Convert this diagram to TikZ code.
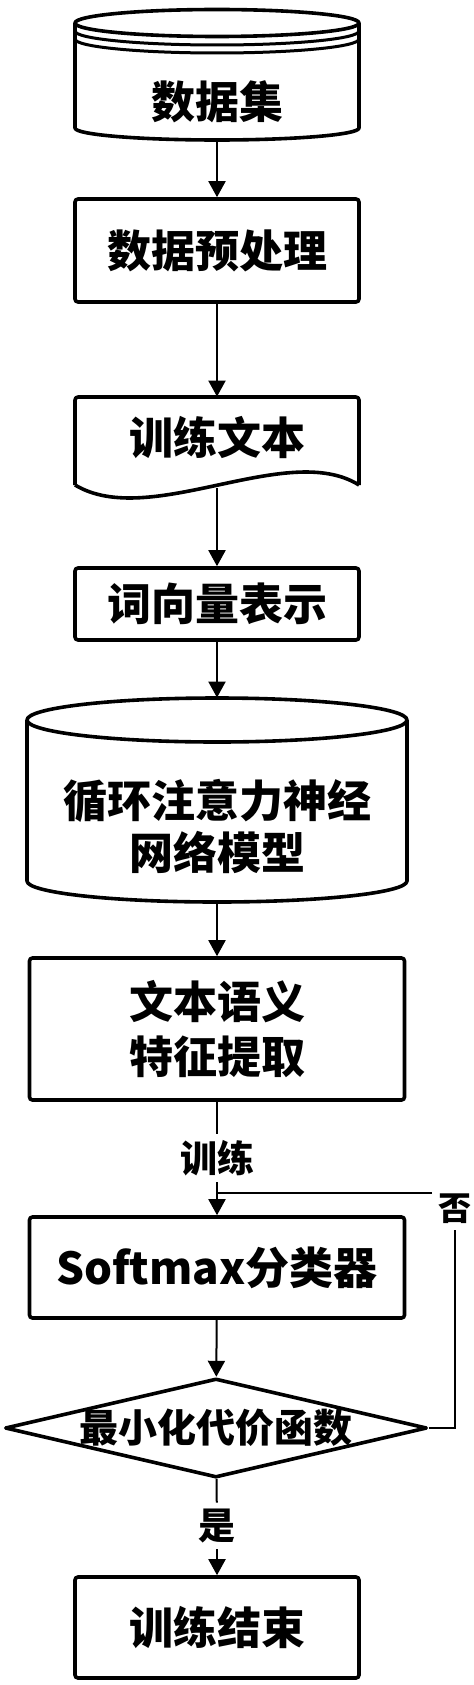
\documentclass[tikz,border=0pt]{standalone}
\usepackage{fontspec}
\setmainfont{Noto Sans CJK SC}
\usetikzlibrary{arrows.meta,shapes.geometric}
\begin{document}
\begin{tikzpicture}[x=0.5pt,y=-0.5pt,
  shapeline/.style={line width=1.8pt, line join=round},
  boxnode/.style={draw, line width=1.8pt, rounded corners=1.5pt, inner sep=0pt, align=center,
    font=\bfseries\fontsize{22pt}{27pt}\selectfont},
  anchorbox/.style={draw=none, inner sep=0pt, minimum width=#1},
  txt/.style={font=\bfseries\fontsize{22pt}{26pt}\selectfont, align=center, inner sep=0pt},
  conn/.style={line width=1pt, -{Triangle[length=8pt,width=8.5pt]}},
  plainline/.style={line width=1pt},
  lbl/.style={font=\bfseries\fontsize{18.5pt}{20pt}\selectfont, inner sep=3pt}
]
\useasboundingbox (0,0) rectangle (474,1685);

% ---- dataset (stored data, stacked top) ----
\draw[shapeline] (75,23) -- (75,128)
  arc[start angle=180, end angle=360, x radius=71pt, y radius=6pt] -- (359,23);
\draw[shapeline] (217,23) ellipse [x radius=71pt, y radius=6.75pt];
\draw[line width=1.5pt] (75,31) arc[start angle=180, end angle=360, x radius=71pt, y radius=7pt];
\draw[line width=1.5pt] (75,39) arc[start angle=180, end angle=360, x radius=71pt, y radius=7pt];
\node[anchorbox=142pt, minimum height=65.25pt] (ds) at (217,74.75) {};
\node[txt] (dstext) at (217,102) {数据集};

% ---- preprocessing ----
\node[boxnode, minimum width=142pt, minimum height=51.5pt] (b2) at (217,250.5) {数据预处理};

% ---- document ----
\draw[shapeline, rounded corners=1.5pt] (75,485) -- (75,397) -- (359,397) -- (359,485);
\draw[shapeline] (359,485) .. controls (287,440) and (150,530) .. (75,485);
\node[anchorbox=142pt, minimum height=45.5pt] (doc) at (217,442.5) {};
\node[txt] (doctext) at (217,437) {训练文本};

% ---- word vectors ----
\node[boxnode, minimum width=142pt, minimum height=36pt] (b4) at (217,604) {词向量表示};

% ---- model cylinder ----
\draw[shapeline] (27,720) -- (27,881)
  arc[start angle=180, end angle=360, x radius=95pt, y radius=10.5pt] -- (407,720);
\draw[shapeline] (217,720) ellipse [x radius=95pt, y radius=11pt];
\node[anchorbox=190pt, minimum height=102pt] (cyl) at (217,800) {};
\node[txt] (cyltext) at (217,826) {循环注意力神经\\网络模型};

% ---- feature extraction ----
\node[boxnode, minimum width=187.5pt, minimum height=71pt] (b6) at (217,1029) {文本语义\\[0.5pt]特征提取};

% ---- softmax ----
\node[boxnode, minimum width=187.5pt, minimum height=50.5pt] (b7) at (217,1267.5) {Softmax分类器};

% ---- decision ----
\node[diamond, draw, line width=1.8pt, line join=round, inner sep=0pt,
  minimum width=211pt, minimum height=49.5pt] (dia) at (216,1428) {};
\node[font=\bfseries\fontsize{19.5pt}{22pt}\selectfont, inner sep=0pt] (diatext) at (216,1428) {最小化代价函数};

% ---- end ----
\node[boxnode, minimum width=142pt, minimum height=50.5pt] (b9) at (217,1627.5) {训练结束};

% ---- labels ----
\node[lbl] (train) at (217,1158) {训练};
\node[lbl] (yes) at (217,1526) {是};
\node[font=\bfseries\fontsize{16.5pt}{18pt}\selectfont, inner sep=3pt] (no) at (455,1209) {否};
\coordinate (fb) at (217,1193);

% ---- connectors ----
\draw[conn] (ds) -- (b2);
\draw[conn] (b2) -- (doc);
\draw[conn] (doc) -- (b4);
\draw[conn] (b4) -- (cyl);
\draw[conn] (cyl) -- (b6);
\draw[plainline] (b6) -- (train);
\draw[conn] (train) -- (b7);
\draw[conn] (b7) -- (dia);
\draw[plainline] (dia) -- (yes);
\draw[conn] (yes) -- (b9);
\draw[plainline] (dia.east) -| (no.south);
\draw[plainline] (no.west |- fb) -- (fb);
\end{tikzpicture}
\end{document}
